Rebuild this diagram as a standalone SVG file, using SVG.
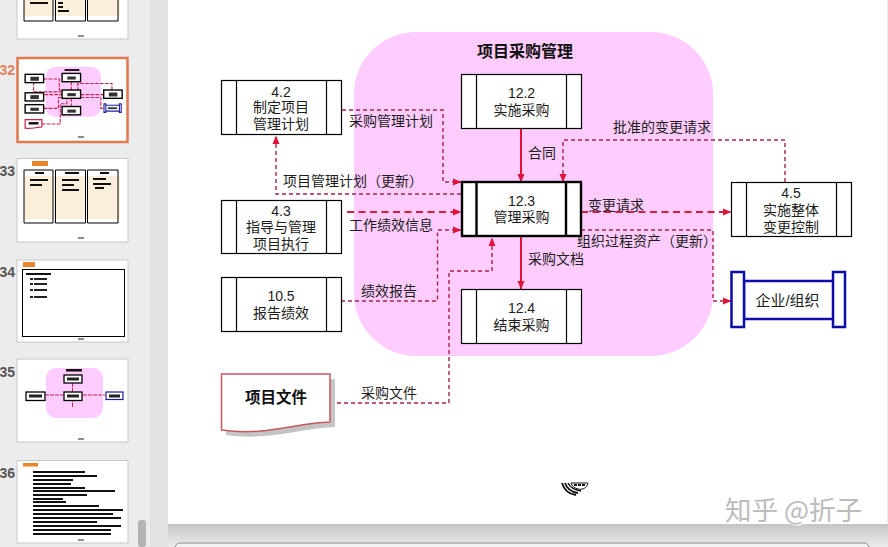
<svg xmlns="http://www.w3.org/2000/svg" width="888" height="547" viewBox="0 0 888 547">
<style>
text{font-family:"Liberation Sans","Noto Sans CJK SC",sans-serif;fill:#1c1c1c;font-size:14px}
.m{text-anchor:middle}
.b{font-weight:bold;fill:#111}
.n{fill:#fff;stroke:#000;stroke-width:1.2}
.t{fill:none;stroke:#000;stroke-width:2.400}
.d{fill:none;stroke:#a8224a;stroke-width:1.400;stroke-dasharray:4 3}
.dh{fill:none;stroke:#d41f45;stroke-width:2;stroke-dasharray:7 4.500}
.s{fill:none;stroke:#e8102e;stroke-width:2}
.th{fill:#fff;stroke:#c8c8c8;stroke-width:1}
.no{font-weight:bold;font-size:14px;fill:#555;text-anchor:end}
.tb{fill:none;stroke:#000;stroke-width:1}
.cr{fill:#fbeeda}
.tn{fill:#fff;stroke:#000;stroke-width:9}
.ti{fill:#fff;stroke:#000;stroke-width:1.300}
</style>
<defs>
<marker id="a" markerWidth="9" markerHeight="8" refX="8" refY="4" orient="auto" markerUnits="userSpaceOnUse"><path d="M0,0.500L8.500,4L0,7.500Z" fill="#e0143a"/></marker>
<linearGradient id="bot" x1="0" y1="0" x2="0" y2="1"><stop offset="0" stop-color="#c4c4c4"/><stop offset="1" stop-color="#ececec"/></linearGradient>
</defs>

<g id="app-background">
<rect width="888" height="547" fill="#ececec"/>
<rect x="150" y="0" width="18" height="547" fill="#e2e2e2"/>
<rect x="168" y="524" width="720" height="23" fill="url(#bot)"/>
<rect x="175" y="543" width="694" height="12" rx="5" fill="#f2f2f2" stroke="#8a8a8a"/>
<rect x="138" y="520" width="8" height="27" rx="3" fill="#b4b4b4"/>
</g>

<g id="slide"><rect x="168" y="0" width="719" height="524" fill="#fff"/></g>

<g id="thumbnails">
<rect class="th" x="17" y="-4" width="111" height="43"/>
<rect class="cr" x="24" y="0" width="96" height="16"/>
<path class="tb" d="M24,-2V21H53V-2M55.500,-2V21H85.500V-2M87.500,-2V21H118V-2"/>
<path d="M30,3h18M58,3h5M58,7h5M58,11h11" stroke="#111" stroke-width="2"/>
<path d="M78,36h6" stroke="#666" stroke-width="1.500"/>

<rect x="17.500" y="58" width="110" height="84" fill="#fff" stroke="#e07a4e" stroke-width="2.500"/>
<g transform="translate(-8.900,62) scale(.154)">
<rect x="354" y="32" width="359" height="324" rx="62" fill="#ffccff"/>
<rect x="477" y="46" width="96" height="12" fill="#111"/>
<path d="M341,110H443V182H461M461,194H276V135M346,212H461M341,301H437V230H461M330,403H449V271H492V237M581,212H731M785,182V140H563V182M581,230H713V301H731M521,128V182M521,236V289" fill="none" stroke="#c8234d" stroke-width="7" stroke-dasharray="24 8"/>
<g class="tn"><rect x="221" y="80" width="120" height="54"/><rect x="461" y="74" width="120" height="54"/><rect x="461" y="182" width="120" height="54"/><rect x="221" y="200" width="120" height="53"/><rect x="221" y="277" width="120" height="54"/><rect x="461" y="289" width="120" height="54"/><rect x="731" y="182" width="120" height="54"/></g>
<g fill="#333"><rect x="255" y="96" width="55" height="26"/><rect x="495" y="94" width="55" height="20"/><rect x="495" y="202" width="55" height="20"/><rect x="255" y="215" width="55" height="26"/><rect x="255" y="297" width="55" height="20"/><rect x="495" y="309" width="55" height="20"/><rect x="765" y="198" width="55" height="26"/></g>
<path d="M733,272h12v55h-12zM833,272h12v55h-12zM745,281h88v38h-88z" fill="#fff" stroke="#1c1c9c" stroke-width="7"/>
<rect x="758" y="294" width="60" height="12" fill="#333"/>
<path d="M221,374H330V422C290,424 265,436 221,430Z" fill="#fff" stroke="#c8234d" stroke-width="8"/>
<rect x="244" y="390" width="64" height="16" fill="#111"/>
</g>
<path d="M78,137h6" stroke="#666" stroke-width="1.500"/>

<rect class="th" x="17" y="158.500" width="111" height="83.500"/>
<rect class="cr" x="24" y="176" width="96" height="43"/>
<rect x="32" y="161" width="16" height="5" fill="#e8862e"/>
<path class="tb" d="M24,170H53V223H24ZM55.500,170H85.500V223H55.500ZM87.500,170H118V223H87.500Z"/>
<path d="M30,180h18M30,185h12M62,180h17M62,185h12M62,190h17M93,179h13M93,184h18M95,188h9M35,173h9M65,173h14M100,173h9" stroke="#111" stroke-width="2"/>
<path d="M78,238h6" stroke="#666" stroke-width="1.500"/>

<rect class="th" x="17" y="260" width="111" height="82"/>
<rect x="23" y="262" width="12" height="5" fill="#e8862e"/>
<rect x="22.500" y="269.500" width="102" height="67" fill="#fff" stroke="#000" stroke-width="1"/>
<path d="M26,274h25" stroke="#111" stroke-width="2"/>
<path d="M30,279h17M30,284h17M30,290h17M30,297h17" stroke="#222" stroke-width="2" stroke-dasharray="3 1 13"/>
<path d="M78,339h6" stroke="#666" stroke-width="1.500"/>

<rect class="th" x="17" y="359" width="111" height="83"/>
<rect x="46" y="368" width="57" height="50" rx="10" fill="#ffccff"/>
<rect x="66" y="369" width="16" height="2.500" fill="#111"/>
<path d="M72.500,383V408M45,395H63M83,395H105" stroke="#c8234d" stroke-width="1" stroke-dasharray="4 1"/>
<rect class="ti" x="26" y="392" width="19" height="8.500"/><rect class="ti" x="64" y="375" width="18" height="8"/><rect class="ti" x="64" y="392" width="18" height="8.500"/>
<path d="M29,396h13M67,379h12M67,396h12M109,396h11" stroke="#222" stroke-width="3"/>
<rect x="106" y="392" width="17" height="7.500" fill="none" stroke="#1c1c9c" stroke-width="1.200"/>
<path d="M78,439h6" stroke="#666" stroke-width="1.500"/>

<rect class="th" x="17" y="460.500" width="111" height="82.500"/>
<rect x="23" y="463" width="15" height="3.500" fill="#e8862e"/>
<path d="M33,472h52M33,476h64M33,480h40M33,484h38M33,488h52M33,491h82M33,495h54M33,499h30M33,502h33M33,506h66M33,510h90M33,514h80M33,518h88M33,522h64M33,526h88M33,530h78M33,534h78" stroke="#111" stroke-width="2"/>
<path d="M78,540h6" stroke="#666" stroke-width="1.500"/>

<text class="no" x="15" y="75" style="fill:#e0835c">32</text>
<text class="no" x="15" y="176">33</text>
<text class="no" x="15" y="277">34</text>
<text class="no" x="15" y="377">35</text>
<text class="no" x="15" y="478">36</text>
</g>

<g id="scope"><rect x="354" y="32" width="359" height="324" rx="62" fill="#ffccff"/>
<text class="m b" x="525" y="57" style="font-size:16px">项目采购管理</text></g>

<g id="connectors">
<path class="d" d="M342,110H443V182H461" marker-end="url(#a)"/>
<path class="d" d="M461,194H276V136" marker-end="url(#a)"/>
<path class="dh" d="M347,212H461" marker-end="url(#a)"/>
<path class="d" d="M341,301H437.500V230H461" marker-end="url(#a)"/>
<path class="d" d="M330,403H449V271H492V238" marker-end="url(#a)"/>
<path class="s" d="M521,128V182" marker-end="url(#a)"/>
<path class="s" d="M521,236V289" marker-end="url(#a)"/>
<path class="d" d="M785,182V140H563V182" marker-end="url(#a)"/>
<path class="dh" d="M581,212H731" marker-end="url(#a)"/>
<path class="d" d="M581,230H713V301H731" marker-end="url(#a)"/>
</g>

<g id="connector-labels">
<text x="349" y="126">采购管理计划</text>
<text x="283" y="186">项目管理计划（更新）</text>
<text x="349" y="230">工作绩效信息</text>
<text x="361" y="296">绩效报告</text>
<text x="361" y="398">采购文件</text>
<text x="528" y="158">合同</text>
<text x="613" y="132">批准的变更请求</text>
<text x="588" y="210">变更请求</text>
<text x="577" y="246">组织过程资产（更新）</text>
<text x="528" y="264">采购文档</text>
</g>

<g id="n42"><rect class="n" x="221.500" y="80.500" width="120" height="54"/><path class="n" d="M236.500,80.500V134.500M326.500,80.500V134.500"/>
<text class="m" x="281" y="97">4.2</text><text class="m" x="281" y="112">制定项目</text><text class="m" x="281" y="129">管理计划</text></g>
<g id="n43"><rect class="n" x="221.500" y="200.500" width="120" height="53"/><path class="n" d="M236.500,200.500V253.500M326.500,200.500V253.500"/>
<text class="m" x="281" y="216">4.3</text><text class="m" x="281" y="232">指导与管理</text><text class="m" x="281" y="249">项目执行</text></g>
<g id="n105"><rect class="n" x="221.500" y="277.500" width="120" height="54"/><path class="n" d="M236.500,277.500V331.500M326.500,277.500V331.500"/>
<text class="m" x="281" y="301">10.5</text><text class="m" x="281" y="318">报告绩效</text></g>
<g id="n122"><rect class="n" x="461.500" y="74.500" width="120" height="54"/><path class="n" d="M476.500,74.500V128.500M566.500,74.500V128.500"/>
<text class="m" x="521.500" y="98">12.2</text><text class="m" x="521.500" y="115">实施采购</text></g>
<g id="n123"><rect class="n" x="462" y="182" width="119" height="54" style="stroke-width:2.400"/><path class="t" d="M476.500,182V236M566,182V236"/>
<text class="m" x="521.500" y="206">12.3</text><text class="m" x="521.500" y="222">管理采购</text></g>
<g id="n124"><rect class="n" x="461.500" y="289.500" width="120" height="54"/><path class="n" d="M476.500,289.500V343.500M566.500,289.500V343.500"/>
<text class="m" x="521.500" y="313">12.4</text><text class="m" x="521.500" y="330">结束采购</text></g>
<g id="n45"><rect class="n" x="731.500" y="182.500" width="120" height="54"/><path class="n" d="M746.500,182.500V236.500M836.500,182.500V236.500"/>
<text class="m" x="791" y="198">4.5</text><text class="m" x="791" y="215">实施整体</text><text class="m" x="791" y="232">变更控制</text></g>
<g id="org"><rect x="744" y="281" width="90" height="38" fill="#fff" stroke="#0c0ca8" stroke-width="2.500"/>
<rect x="731.500" y="272" width="12.500" height="55" fill="#fff" stroke="#0c0ca8" stroke-width="2.500"/>
<rect x="833" y="272" width="12" height="55" fill="#fff" stroke="#0c0ca8" stroke-width="2.500"/>
<text class="m" x="787.500" y="306" style="font-size:15px">企业/组织</text></g>
<g id="doc"><path d="M226,379H335V427C295,429 270,441 226,435Z" fill="#c4c4c4"/>
<path d="M221.500,374H330V422C290,424 265,436 221.500,430Z" fill="#fff" stroke="#c45a60" stroke-width="1.500"/>
<text class="m b" x="276" y="403" style="font-size:15.500px">项目文件</text></g>

<g id="logo" fill="none" stroke="#111"><path d="M562,483C564,490 569,494 576,495M565,483C567,489 571,492 578,493" stroke-width="1.800"/><path d="M568,483C570,487 574,490 581,491" stroke-width="1.500"/><path d="M571,483H588C587,488 583,490 578,489C574,488 572,486 571,483Z" stroke-width="1" fill="#fff"/><path d="M574,485h11" stroke-width="2" stroke-dasharray="3 1"/></g>

<g id="watermark" style="font-family:'Noto Sans CJK SC',sans-serif">
<text x="726" y="521" style="font-size:26.500px;fill:#fff;font-family:'Noto Sans CJK SC',sans-serif">知乎 @折子</text>
<text x="725" y="520" style="font-size:26.500px;fill:#bcbcbc;font-family:'Noto Sans CJK SC',sans-serif">知乎 @折子</text>
</g>
</svg>
